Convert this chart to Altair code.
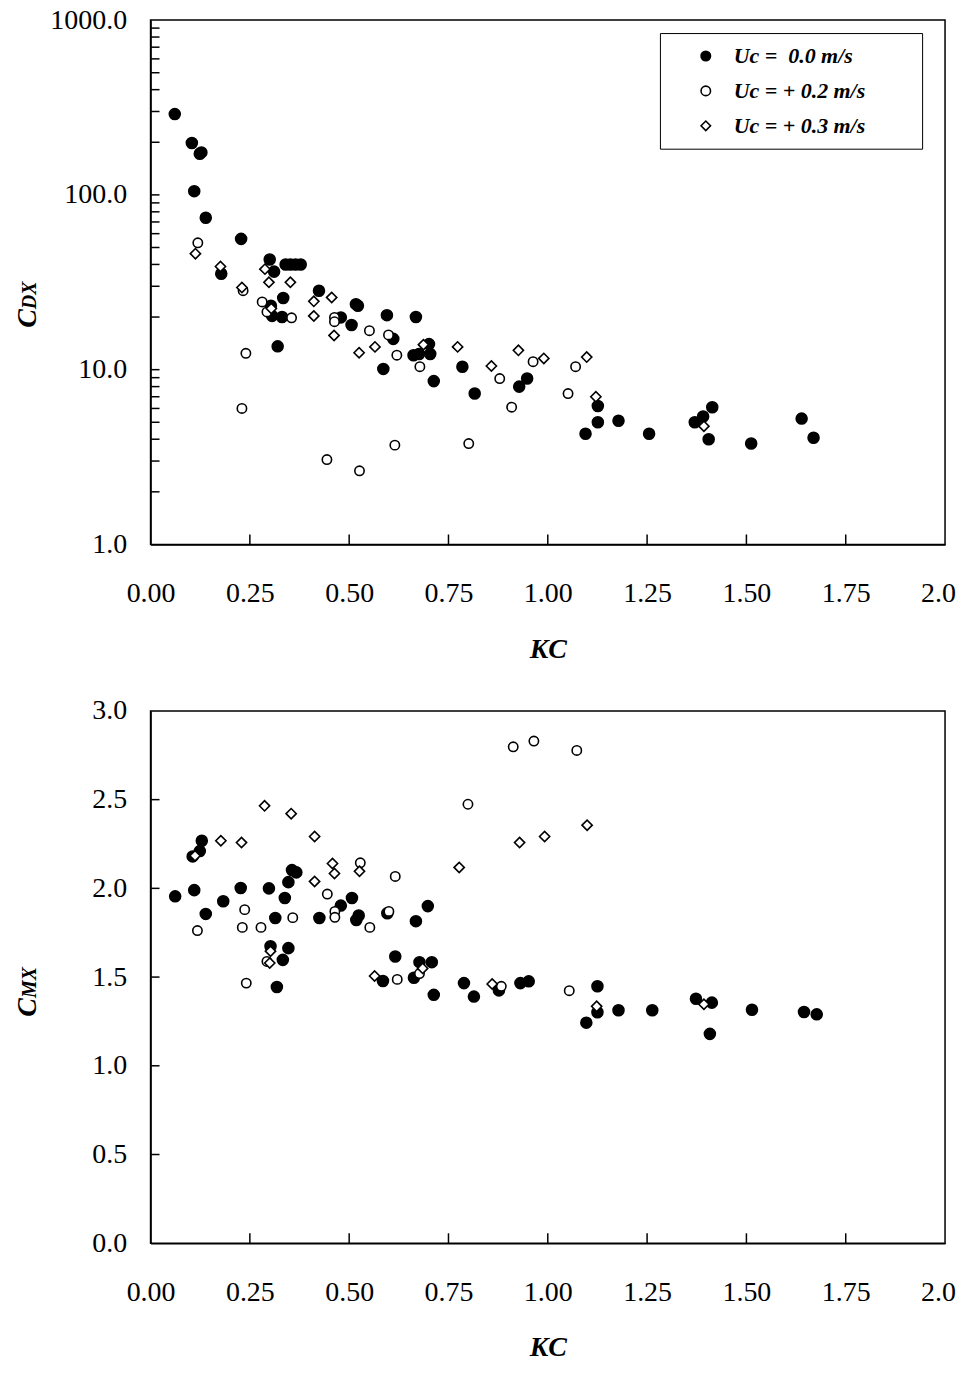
import altair as alt
import pandas as pd

FONT = "Liberation Serif"
# trailing non-breaking spaces (closed by a zero-width space so they are kept) widen the legend box
PAD = "\u00a0" * 8 + "\u200b"
series_names = ["Uc =\u00a0 0.0 m/s" + PAD, "Uc = + 0.2 m/s" + PAD, "Uc = + 0.3 m/s" + PAD]

# ---- Top panel: C_DX (log) vs KC ----
kc_cdx_a = [0.061, 0.104, 0.110, 0.124, 0.128, 0.139, 0.178, 0.228, 0.300, 0.303, 0.306, 0.311, 0.320,
            0.331, 0.334, 0.340, 0.352, 0.365, 0.378, 0.424, 0.479, 0.506, 0.517, 0.522, 0.586, 0.595,
            0.611, 0.662, 0.668, 0.676, 0.701, 0.704, 0.713, 0.785, 0.816, 0.928, 0.948, 1.095, 1.126,
            1.126, 1.178, 1.255, 1.370, 1.391, 1.405, 1.414, 1.512, 1.639, 1.669]
cdx_a = [290, 198, 105, 172, 175, 74, 35.4, 56, 42.7, 23.2, 20.3, 36.4, 13.6,
         20.0, 25.7, 40, 40, 40, 40, 28.3, 19.9, 18.0, 23.7, 23.2, 10.1, 20.5,
         15.0, 12.1, 20.0, 12.3, 14.0, 12.3, 8.6, 10.4, 7.3, 8.0, 8.9, 4.3, 6.2,
         5.0, 5.1, 4.3, 5.0, 5.4, 4.0, 6.1, 3.78, 5.25, 4.08]
kc_cdx_b = [0.119, 0.230, 0.233, 0.240, 0.281, 0.293, 0.355, 0.444, 0.463, 0.463, 0.526, 0.551,
            0.599, 0.615, 0.620, 0.678, 0.801, 0.879, 0.909, 0.963, 1.051, 1.070]
cdx_b = [53.2, 6.0, 28.3, 12.4, 24.4, 21.4, 19.8, 3.06, 19.9, 18.8, 2.64, 16.7,
         15.8, 3.7, 12.1, 10.4, 3.78, 8.9, 6.1, 11.1, 7.3, 10.4]
kc_cdx_c = [0.113, 0.176, 0.230, 0.288, 0.298, 0.304, 0.352, 0.411, 0.411, 0.456, 0.462, 0.525,
            0.565, 0.687, 0.773, 0.858, 0.926, 0.990, 1.098, 1.121, 1.393]
cdx_c = [46.1, 38.9, 29.5, 37.6, 31.6, 22.4, 31.6, 24.6, 20.3, 25.9, 15.7, 12.5,
         13.5, 13.9, 13.5, 10.5, 12.9, 11.6, 11.8, 7.0, 4.75]

# ---- Bottom panel: C_MX vs KC ----
kc_cmx_a = [0.062, 0.106, 0.110, 0.124, 0.129, 0.139, 0.183, 0.227, 0.298, 0.302, 0.314, 0.318,
            0.333, 0.338, 0.347, 0.347, 0.356, 0.367, 0.425, 0.479, 0.507, 0.518, 0.524, 0.585,
            0.596, 0.616, 0.663, 0.668, 0.677, 0.698, 0.708, 0.713, 0.789, 0.814, 0.877, 0.931,
            0.952, 1.097, 1.125, 1.125, 1.178, 1.263, 1.373, 1.408, 1.413, 1.514, 1.645, 1.677]
cmx_a = [1.955, 2.18, 1.99, 2.21, 2.268, 1.856, 1.927, 2.002, 2.00, 1.674, 1.833, 1.444,
         1.597, 1.946, 2.035, 1.663, 2.103, 2.09, 1.833, 1.903, 1.946, 1.822, 1.847, 1.478,
         1.86, 1.616, 1.496, 1.815, 1.584, 1.90, 1.584, 1.40, 1.466, 1.39, 1.425, 1.466,
         1.476, 1.243, 1.448, 1.302, 1.313, 1.313, 1.378, 1.18, 1.356, 1.316, 1.303, 1.29]
kc_cmx_b = [0.118, 0.231, 0.237, 0.241, 0.278, 0.293, 0.358, 0.445, 0.464, 0.464, 0.528, 0.552,
            0.600, 0.616, 0.621, 0.677, 0.799, 0.883, 0.913, 0.965, 1.054, 1.073]
cmx_b = [1.762, 1.78, 1.88, 1.466, 1.78, 1.588, 1.835, 1.968, 1.87, 1.837, 2.144, 1.78,
         1.87, 2.067, 1.487, 1.52, 2.474, 1.448, 2.798, 2.83, 1.423, 2.777]
kc_cmx_c = [0.112, 0.177, 0.229, 0.287, 0.300, 0.302, 0.354, 0.413, 0.413, 0.458, 0.463, 0.526,
            0.564, 0.685, 0.777, 0.860, 0.929, 0.992, 1.099, 1.123, 1.393]
cmx_c = [2.184, 2.268, 2.258, 2.465, 1.579, 1.646, 2.421, 2.292, 2.039, 2.14, 2.084, 2.096,
         1.506, 1.549, 2.118, 1.461, 2.258, 2.292, 2.356, 1.335, 1.347]

# ---- tick values ----
x_label_values = [0.0, 0.25, 0.5, 0.75, 1.0, 1.25, 1.5, 1.75, 2.0]
x_tick_values = [0.25, 0.5, 0.75, 1.0, 1.25, 1.5, 1.75]
cdx_label_values = [1, 10, 100, 1000]
cdx_tick_values = [2, 3, 4, 5, 6, 7, 8, 9, 10, 20, 30, 40, 50, 60, 70, 80, 90, 100,
                   200, 300, 400, 500, 600, 700, 800, 900]
cmx_label_values = [0.0, 0.5, 1.0, 1.5, 2.0, 2.5, 3.0]
cmx_tick_values = [0.5, 1.0, 1.5, 2.0, 2.5]

W = 797
H1 = 526
H2 = 534
MARKER_SIZES = [121, 88, 105]


def make_df(kcs, vals):
    rows = []
    for name, k, v in zip(series_names, kcs, vals):
        for a, b in zip(k, v):
            rows.append({"KC": a, "C": b, "series": name})
    return pd.DataFrame(rows)


df_top = make_df([kc_cdx_a, kc_cdx_b, kc_cdx_c], [cdx_a, cdx_b, cdx_c])
df_bot = make_df([kc_cmx_a, kc_cmx_b, kc_cmx_c], [cmx_a, cmx_b, cmx_c])

x_scale = alt.Scale(domain=[0, 2], nice=False, zero=False)
shape_scale = alt.Scale(domain=series_names, range=["circle", "circle", "diamond"])
fill_scale = alt.Scale(domain=series_names, range=["black", "white", "white"])
stroke_scale = alt.Scale(domain=series_names, range=["black", "black", "black"])

x_axis = alt.Axis(values=x_label_values, format=".2f", title="KC", ticks=False, tickSize=0,
                  labelPadding=35, titlePadding=28, titleFont=FONT, titleFontSize=28,
                  titleFontStyle="italic", titleFontWeight="bold", titleColor="black",
                  labelFlush=False)

legend = alt.Legend(orient="none", legendX=511, legendY=13, title=None, strokeColor="black",
                    fillColor="white", padding=12, labelFont=FONT, labelFontSize=22,
                    labelFontStyle="italic", labelFontWeight="bold", labelColor="black",
                    symbolOffset=23, labelOffset=17, rowPadding=13, labelLimit=400,
                    symbolSize=90, symbolStrokeColor="black", symbolStrokeWidth=1.6,
                    cornerRadius=0)


def panel(df, y_scale, y_axis, y_ticks, height, with_legend, title_main, title_sub, split):
    leg = legend if with_legend else None
    layers = []
    xt = alt.Chart(pd.DataFrame({"KC": x_tick_values})).mark_rule(
        color="black", strokeWidth=1.5).encode(
        x=alt.X("KC:Q", scale=x_scale, axis=x_axis),
        y=alt.value(height), y2=alt.value(height - 10))
    yt = alt.Chart(pd.DataFrame({"C": y_ticks})).mark_rule(
        color="black", strokeWidth=1.5).encode(
        y=alt.Y("C:Q", scale=y_scale, axis=y_axis),
        x=alt.value(0), x2=alt.value(9))
    layers += [xt, yt]
    for name, sz in zip(series_names, MARKER_SIZES):
        layers.append(
            alt.Chart(df).transform_filter(alt.datum.series == name)
            .mark_point(size=sz, strokeWidth=1.6, opacity=1).encode(
                x=alt.X("KC:Q", scale=x_scale, axis=x_axis),
                y=alt.Y("C:Q", scale=y_scale, axis=y_axis),
                shape=alt.Shape("series:N", scale=shape_scale, legend=leg),
                fill=alt.Fill("series:N", scale=fill_scale, legend=leg),
                stroke=alt.Stroke("series:N", scale=stroke_scale, legend=leg),
            )
        )
    one = pd.DataFrame({"a": [0]})
    t_main = alt.Chart(one).mark_text(
        text=title_main, font=FONT, fontSize=28, fontStyle="italic", fontWeight="bold",
        angle=270, align="right", baseline="alphabetic", color="black").encode(
        x=alt.value(-115), y=alt.value(split))
    t_sub = alt.Chart(one).mark_text(
        text=title_sub, font=FONT, fontSize=20, fontStyle="italic", fontWeight="bold",
        angle=270, align="left", baseline="alphabetic", color="black").encode(
        x=alt.value(-115), y=alt.value(split))
    layers += [t_main, t_sub]
    return alt.layer(*layers).properties(width=W, height=height)


top = panel(
    df_top,
    alt.Scale(type="log", domain=[1, 1000], nice=False),
    alt.Axis(values=cdx_label_values, format=".1f", title=None, ticks=False, tickSize=0,
             labelPadding=24),
    cdx_tick_values, H1, True, "C", "DX", 290)

bottom = panel(
    df_bot,
    alt.Scale(domain=[0, 3], nice=False, zero=True),
    alt.Axis(values=cmx_label_values, format=".1f", title=None, ticks=False, tickSize=0,
             labelPadding=24),
    cmx_tick_values, H2, False, "C", "MX", 288)

chart = alt.vconcat(top, bottom, spacing=32).resolve_scale(
    x="independent", y="independent", shape="independent", fill="independent",
    stroke="independent").resolve_legend(
    shape="independent", fill="independent", stroke="independent").configure_view(
    stroke="black", strokeWidth=1.5).configure_axis(
    labelFont=FONT, labelFontSize=28, labelColor="black", domainColor="black",
    domainWidth=1.5, grid=False).properties(
    padding={"left": 5, "top": -5, "right": -15, "bottom": -3}, background="white")

chart.save("out.html", embed_options={"renderer": "svg", "actions": False})
